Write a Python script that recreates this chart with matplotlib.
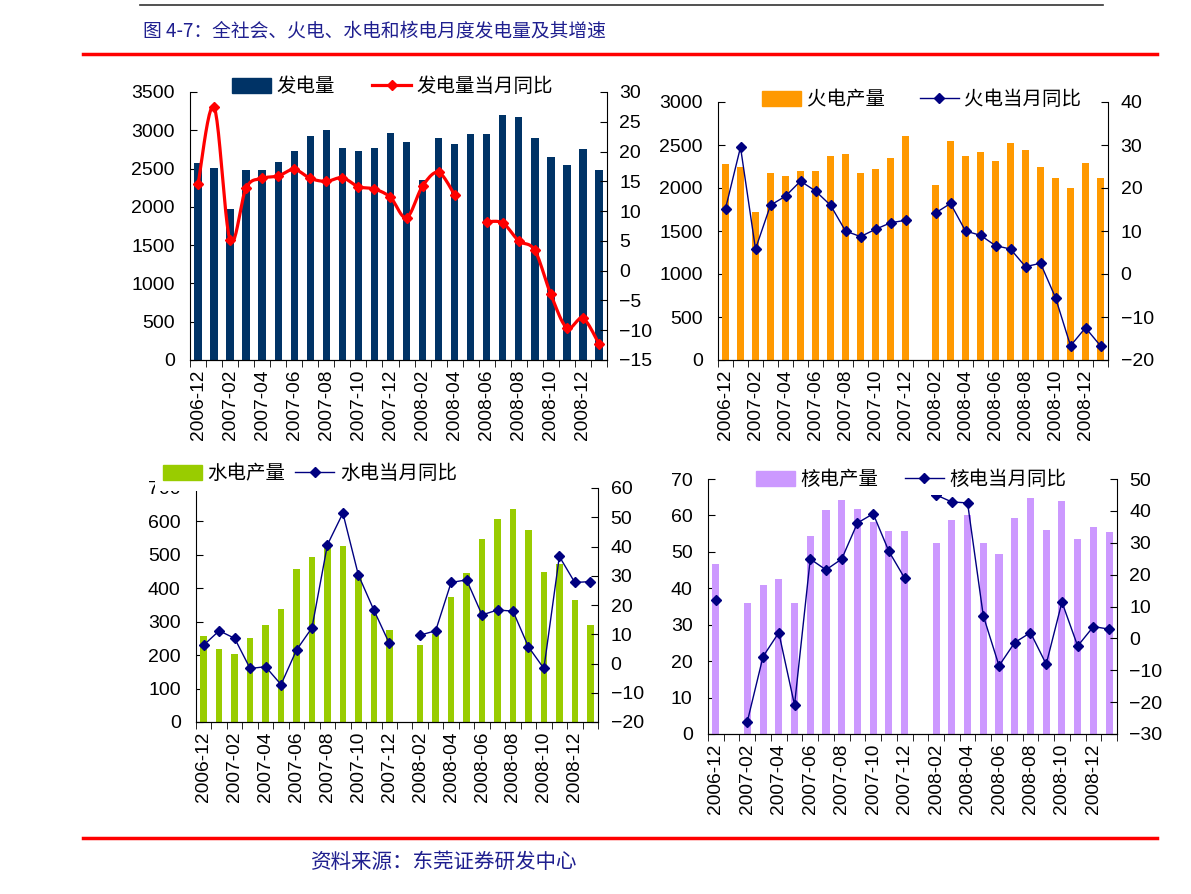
import numpy as np
import matplotlib.pyplot as plt
from matplotlib.patches import Patch
from matplotlib.lines import Line2D

plt.rcParams['font.family'] = ['Liberation Sans', 'Noto Sans CJK SC', 'DejaVu Sans']

months = ['2006-12', '2007-01', '2007-02', '2007-03', '2007-04', '2007-05', '2007-06',
          '2007-07', '2007-08', '2007-09', '2007-10', '2007-11', '2007-12', '2008-01',
          '2008-02', '2008-03', '2008-04', '2008-05', '2008-06', '2008-07', '2008-08',
          '2008-09', '2008-10', '2008-11', '2008-12', '2009-01']
nan = np.nan

total_gen = [2570, 2510, 1970, 2480, 2480, 2580, 2730, 2925, 3010, 2770, 2730, 2770, 2970,
             2850, 2345, 2905, 2825, 2950, 2950, 3200, 3175, 2905, 2650, 2550, 2750, 2480]
total_yoy = [14.5, 27.5, 5.1, 13.9, 15.5, 15.9, 17.0, 15.5, 15.0, 15.6, 14.1, 13.7, 12.3,
             8.9, 14.2, 16.5, 12.7, nan, 8.2, 8.0, 5.0, 3.4, -4.0, -9.6, -8.0, -12.3]

thermal_gen = [2275, 2245, 1725, 2175, 2140, 2195, 2195, 2370, 2400, 2175, 2225, 2350, 2605,
               nan, 2040, 2545, 2370, 2420, 2315, 2525, 2440, 2245, 2120, 2000, 2295, 2120]
thermal_yoy = [15.2, 29.5, 5.8, 16.0, 18.1, 21.6, 19.3, 16.0, 10.0, 8.7, 10.4, 11.9, 12.5,
               nan, 14.2, 16.4, 10.0, 9.0, 6.6, 5.8, 1.7, 2.5, -5.5, -16.7, -12.5, -16.7]

hydro_gen = [257, 217, 204, 252, 289, 339, 458, 495, 526, 526, 433, 324, 274,
             nan, 230, 262, 374, 445, 548, 606, 637, 575, 449, 473, 364, 289]
hydro_yoy = [6.3, 11.2, 8.6, -1.7, -1.1, -7.2, 4.6, 12.2, 40.6, 51.4, 30.3, 18.3, 6.9,
             nan, 9.7, 11.2, 27.7, 28.6, 16.6, 18.3, 17.9, 5.7, -1.7, 36.6, 27.7, 28.0]

nuclear_gen = [46.7, nan, 35.9, 41.0, 42.5, 35.9, 54.4, 61.4, 64.3, 61.9, 58.2, 55.8, 55.8,
               nan, 52.4, 58.7, 60.2, 52.4, 49.5, 59.4, 64.7, 56.1, 63.9, 53.6, 56.8, 55.4]
nuclear_yoy = [12.1, nan, -26.1, -5.7, 1.8, -20.9, 24.9, 21.5, 24.9, 36.2, 39.1, 27.3, 18.9,
               nan, 45.0, 42.8, 42.5, 7.1, -8.6, -1.3, 1.8, -8.1, 11.4, -2.4, 3.7, 2.9]

W, H = 1191, 894
fig = plt.figure(figsize=(W / 100, H / 100), dpi=100)
NAVY = '#000080'
TITLE_C = '#1f1f8f'


def px_axes(l, t, r, b):
    return fig.add_axes([l / W, 1 - b / H, (r - l) / W, (b - t) / H])


def smooth(x, y, n=12):
    # Catmull-Rom path through the points of each unbroken run
    xs, ys = [], []
    x = np.asarray(x, float)
    y = np.asarray(y, float)
    ok = ~np.isnan(y)
    runs, cur = [], []
    for i in range(len(y)):
        if ok[i]:
            cur.append(i)
        elif cur:
            runs.append(cur)
            cur = []
    if cur:
        runs.append(cur)
    for r in runs:
        px, py = x[r], y[r]
        if len(r) < 3:
            xs += list(px) + [nan]
            ys += list(py) + [nan]
            continue
        P = np.column_stack([px, py])
        P = np.vstack([P[0], P, P[-1]])
        t = np.linspace(0, 1, n)[:, None]
        for k in range(1, len(P) - 2):
            p0, p1, p2, p3 = P[k - 1], P[k], P[k + 1], P[k + 2]
            seg = 0.5 * ((2 * p1) + (-p0 + p2) * t + (2 * p0 - 5 * p1 + 4 * p2 - p3) * t ** 2
                         + (-p0 + 3 * p1 - 3 * p2 + p3) * t ** 3)
            xs += list(seg[:, 0])
            ys += list(seg[:, 1])
        xs.append(nan)
        ys.append(nan)
    return xs, ys


def panel(box, bars, line, bar_color, line_color, ylim, ystep, y2lim, y2step,
          bar_label, line_label, leg_pos, bar_w=0.42, smooth_line=False, lw=1.0, ms=5.5,
          leg_pad=0.1, colsp=1.6):
    ax = px_axes(*box)
    x = np.arange(len(months))
    ax.bar(x, bars, width=bar_w, color=bar_color, zorder=2)
    ax.set_xlim(-0.5, len(months) - 0.5)
    ax.set_ylim(*ylim)
    ax.set_yticks(np.arange(ylim[0], ylim[1] + ystep / 2, ystep))
    ax.set_xticks(x[::2])
    ax.set_xticklabels(months[::2], rotation=90, fontsize=13.8)
    ax.set_xticks(np.arange(-0.5, len(months), 1), minor=True)
    ax.tick_params(axis='x', which='major', length=0, pad=7)
    ax.tick_params(axis='x', which='minor', length=5, direction='out')
    ax.tick_params(axis='y', direction='in', length=5, labelsize=14, pad=11)
    ax.spines['top'].set_visible(False)
    ax.spines['right'].set_visible(False)

    ax2 = ax.twinx()
    ax2.set_ylim(*y2lim)
    ax2.set_yticks(np.arange(y2lim[0], y2lim[1] + y2step / 2, y2step))
    ax2.tick_params(axis='y', direction='in', length=5, labelsize=14, pad=9)
    ax2.spines['top'].set_visible(False)
    ax2.spines['left'].set_visible(False)
    if smooth_line:
        sx, sy = smooth(x, line)
        ax2.plot(sx, sy, color=line_color, lw=lw, zorder=3)
    else:
        ax2.plot(x, line, color=line_color, lw=lw, zorder=3)
    ax2.plot(x, line, ls='none', marker='D', color=line_color, ms=ms, zorder=4)

    handles = [Patch(color=bar_color),
               Line2D([], [], color=line_color, lw=lw, marker='D', ms=ms)]
    leg = fig.legend(handles, [bar_label, line_label], loc='center left',
                     bbox_to_anchor=(leg_pos[0] / W, 1 - leg_pos[1] / H), ncol=2,
                     frameon=True, framealpha=1, fontsize=14, handlelength=2.0,
                     handleheight=0.8, columnspacing=colsp, handletextpad=0.3,
                     borderpad=leg_pad, borderaxespad=0)
    leg.get_frame().set_facecolor('white')
    leg.get_frame().set_edgecolor('white')
    leg.get_frame().set_linewidth(0)
    return ax, ax2


panel((190, 92, 607, 360), total_gen, total_yoy, '#003366', '#ff0000', (0, 3500), 500,
      (-15, 30), 5, '发电量', '发电量当月同比', (230, 87), bar_w=0.46,
      smooth_line=True, lw=2.3, ms=5, colsp=1.9)
panel((718, 102, 1108, 360), thermal_gen, thermal_yoy, '#ff9900', NAVY, (0, 3000), 500,
      (-20, 40), 10, '火电产量', '火电当月同比', (760, 100), colsp=1.8)
panel((196, 488, 598, 722), hydro_gen, hydro_yoy, '#99cc00', NAVY, (0, 700), 100,
      (-20, 60), 10, '水电产量', '水电当月同比', (155, 474), leg_pad=0.4, colsp=0.5)
panel((708, 479, 1117, 734), nuclear_gen, nuclear_yoy, '#cc99ff', NAVY, (0, 70), 10,
      (-30, 50), 10, '核电产量', '核电当月同比', (750, 480), bar_w=0.45, leg_pad=0.3,
      colsp=1.35)

# page decorations
fig.add_artist(Line2D([140 / W, 1103 / W], [1 - 5 / H, 1 - 5 / H], color='#333333', lw=1.2))
fig.add_artist(Line2D([83 / W, 1157 / W], [1 - 54 / H, 1 - 54 / H], color='#ff0000', lw=2.5))
fig.add_artist(Line2D([83 / W, 1157 / W], [1 - 838 / H, 1 - 838 / H], color='#ff0000', lw=2.5))
fig.text(143 / W, 1 - 31 / H, '图 4-7：全社会、火电、水电和核电月度发电量及其增速',
         color=TITLE_C, fontsize=13.5, va='center', ha='left',
         family=['Noto Sans CJK SC', 'DejaVu Sans'])
fig.text(311 / W, 1 - 862 / H, '资料来源：东莞证券研发中心',
         color=TITLE_C, fontsize=14.8, va='center', ha='left',
         family=['Noto Sans CJK SC', 'DejaVu Sans'])

fig.savefig('out.png', dpi=100)
